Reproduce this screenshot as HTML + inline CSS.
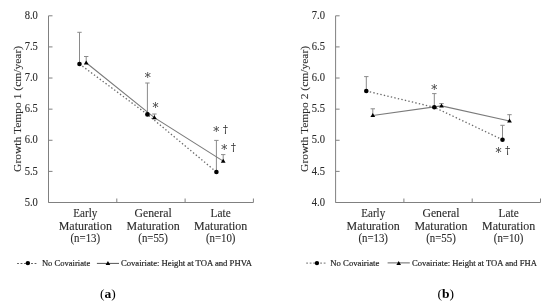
<!DOCTYPE html>
<html><head><meta charset="utf-8"><style>
html,body{margin:0;padding:0;background:#fff;}
svg{display:block;}
.t{font-family:"Liberation Serif", serif;font-size:11.2px;fill:#2a2a2a;stroke:#2a2a2a;stroke-width:0.1px;}
.c{font-size:11.7px;}
.l{font-family:"Liberation Serif", serif;font-size:8.3px;fill:#1e1e1e;stroke:#1e1e1e;stroke-width:0.18px;}
.ast{font-family:"DejaVu Serif",serif;font-size:12px;fill:#3a3a3a;}
.dag{font-family:"DejaVu Serif",serif;font-size:10.5px;fill:#2a2a2a;}
.cap{font-family:"Liberation Serif", serif;font-size:13.5px;fill:#000;}
</style></head><body>
<svg width="550" height="308" viewBox="0 0 550 308">
<rect width="550" height="308" fill="#fff"/>
<line x1="48.5" y1="15.8" x2="48.5" y2="202.5" stroke="#808080" stroke-width="1"/>
<line x1="48.5" y1="15.80" x2="52.5" y2="15.80" stroke="#808080" stroke-width="1"/>
<text x="37.9" y="19.00" text-anchor="end" class="t" style="font-size:12px" textLength="13.2" lengthAdjust="spacingAndGlyphs">8.0</text>
<line x1="48.5" y1="46.92" x2="52.5" y2="46.92" stroke="#808080" stroke-width="1"/>
<text x="37.9" y="50.12" text-anchor="end" class="t" style="font-size:12px" textLength="13.2" lengthAdjust="spacingAndGlyphs">7.5</text>
<line x1="48.5" y1="78.03" x2="52.5" y2="78.03" stroke="#808080" stroke-width="1"/>
<text x="37.9" y="81.23" text-anchor="end" class="t" style="font-size:12px" textLength="13.2" lengthAdjust="spacingAndGlyphs">7.0</text>
<line x1="48.5" y1="109.15" x2="52.5" y2="109.15" stroke="#808080" stroke-width="1"/>
<text x="37.9" y="112.35" text-anchor="end" class="t" style="font-size:12px" textLength="13.2" lengthAdjust="spacingAndGlyphs">6.5</text>
<line x1="48.5" y1="140.27" x2="52.5" y2="140.27" stroke="#808080" stroke-width="1"/>
<text x="37.9" y="143.47" text-anchor="end" class="t" style="font-size:12px" textLength="13.2" lengthAdjust="spacingAndGlyphs">6.0</text>
<line x1="48.5" y1="171.38" x2="52.5" y2="171.38" stroke="#808080" stroke-width="1"/>
<text x="37.9" y="174.58" text-anchor="end" class="t" style="font-size:12px" textLength="13.2" lengthAdjust="spacingAndGlyphs">5.5</text>
<line x1="48.5" y1="202.50" x2="52.5" y2="202.50" stroke="#808080" stroke-width="1"/>
<text x="37.9" y="205.70" text-anchor="end" class="t" style="font-size:12px" textLength="13.2" lengthAdjust="spacingAndGlyphs">5.0</text>
<line x1="48.5" y1="202.5" x2="253.39999999999998" y2="202.5" stroke="#808080" stroke-width="1"/>
<line x1="116.8" y1="198.5" x2="116.8" y2="202.5" stroke="#808080" stroke-width="1"/>
<line x1="185.1" y1="198.5" x2="185.1" y2="202.5" stroke="#808080" stroke-width="1"/>
<line x1="253.4" y1="198.5" x2="253.4" y2="202.5" stroke="#808080" stroke-width="1"/>
<text x="85.3" y="216.6" text-anchor="middle" class="t c" textLength="23.9" lengthAdjust="spacingAndGlyphs">Early</text>
<text x="85.3" y="229.5" text-anchor="middle" class="t c" textLength="53.2" lengthAdjust="spacingAndGlyphs">Maturation</text>
<text x="85.3" y="242.3" text-anchor="middle" class="t c" textLength="29.6" lengthAdjust="spacingAndGlyphs">(n=13)</text>
<text x="153.1" y="216.6" text-anchor="middle" class="t c" textLength="37.2" lengthAdjust="spacingAndGlyphs">General</text>
<text x="153.1" y="229.5" text-anchor="middle" class="t c" textLength="53.2" lengthAdjust="spacingAndGlyphs">Maturation</text>
<text x="153.1" y="242.3" text-anchor="middle" class="t c" textLength="29.6" lengthAdjust="spacingAndGlyphs">(n=55)</text>
<text x="220.7" y="216.6" text-anchor="middle" class="t c" textLength="20.2" lengthAdjust="spacingAndGlyphs">Late</text>
<text x="220.7" y="229.5" text-anchor="middle" class="t c" textLength="53.2" lengthAdjust="spacingAndGlyphs">Maturation</text>
<text x="220.7" y="242.3" text-anchor="middle" class="t c" textLength="29.6" lengthAdjust="spacingAndGlyphs">(n=10)</text>
<text transform="translate(20.8,108.9) rotate(-90)" text-anchor="middle" class="t" textLength="126" lengthAdjust="spacingAndGlyphs">Growth Tempo 1 (cm/year)</text>
<line x1="79.5" y1="32.3" x2="79.5" y2="64" stroke="#8a8a8a" stroke-width="1"/>
<line x1="77.3" y1="32.3" x2="81.7" y2="32.3" stroke="#8a8a8a" stroke-width="1"/>
<line x1="147.4" y1="83" x2="147.4" y2="114.4" stroke="#8a8a8a" stroke-width="1"/>
<line x1="145.20000000000002" y1="83" x2="149.6" y2="83" stroke="#8a8a8a" stroke-width="1"/>
<line x1="216.4" y1="140.4" x2="216.4" y2="172" stroke="#8a8a8a" stroke-width="1"/>
<line x1="214.20000000000002" y1="140.4" x2="218.6" y2="140.4" stroke="#8a8a8a" stroke-width="1"/>
<line x1="86.2" y1="56.5" x2="86.2" y2="62.8" stroke="#8a8a8a" stroke-width="1"/>
<line x1="84.0" y1="56.5" x2="88.4" y2="56.5" stroke="#8a8a8a" stroke-width="1"/>
<line x1="154.4" y1="114" x2="154.4" y2="117.6" stroke="#8a8a8a" stroke-width="1"/>
<line x1="152.20000000000002" y1="114" x2="156.6" y2="114" stroke="#8a8a8a" stroke-width="1"/>
<line x1="223.2" y1="154.6" x2="223.2" y2="161.1" stroke="#8a8a8a" stroke-width="1"/>
<line x1="221.0" y1="154.6" x2="225.39999999999998" y2="154.6" stroke="#8a8a8a" stroke-width="1"/>
<polyline points="79.5,64 147.4,114.4 216.4,172" fill="none" stroke="#6a6a6a" stroke-width="1.3" stroke-dasharray="1.4 2.2"/>
<polyline points="86.2,62.8 154.4,117.6 223.2,161.1" fill="none" stroke="#7a7a7a" stroke-width="1.1"/>
<circle cx="79.5" cy="64" r="2.3" fill="#000"/>
<circle cx="147.4" cy="114.4" r="2.3" fill="#000"/>
<circle cx="216.4" cy="172" r="2.3" fill="#000"/>
<path d="M83.8,64.39999999999999 L88.60000000000001,64.39999999999999 L86.2,60.4 Z" fill="#000"/>
<path d="M152.0,119.19999999999999 L156.8,119.19999999999999 L154.4,115.19999999999999 Z" fill="#000"/>
<path d="M220.79999999999998,162.7 L225.6,162.7 L223.2,158.7 Z" fill="#000"/>
<line x1="17.1" y1="263.5" x2="37.2" y2="263.5" stroke="#5e5e5e" stroke-width="1" stroke-dasharray="1.8 1.7"/>
<circle cx="27.85" cy="263.1" r="2.2" fill="#000"/>
<text x="41.9" y="266.2" class="l" textLength="48.3" lengthAdjust="spacingAndGlyphs">No Covairiate</text>
<line x1="335.6" y1="15.8" x2="335.6" y2="202.5" stroke="#808080" stroke-width="1"/>
<line x1="335.6" y1="15.80" x2="339.6" y2="15.80" stroke="#808080" stroke-width="1"/>
<text x="325.0" y="19.00" text-anchor="end" class="t" style="font-size:12px" textLength="13.2" lengthAdjust="spacingAndGlyphs">7.0</text>
<line x1="335.6" y1="46.92" x2="339.6" y2="46.92" stroke="#808080" stroke-width="1"/>
<text x="325.0" y="50.12" text-anchor="end" class="t" style="font-size:12px" textLength="13.2" lengthAdjust="spacingAndGlyphs">6.5</text>
<line x1="335.6" y1="78.03" x2="339.6" y2="78.03" stroke="#808080" stroke-width="1"/>
<text x="325.0" y="81.23" text-anchor="end" class="t" style="font-size:12px" textLength="13.2" lengthAdjust="spacingAndGlyphs">6.0</text>
<line x1="335.6" y1="109.15" x2="339.6" y2="109.15" stroke="#808080" stroke-width="1"/>
<text x="325.0" y="112.35" text-anchor="end" class="t" style="font-size:12px" textLength="13.2" lengthAdjust="spacingAndGlyphs">5.5</text>
<line x1="335.6" y1="140.27" x2="339.6" y2="140.27" stroke="#808080" stroke-width="1"/>
<text x="325.0" y="143.47" text-anchor="end" class="t" style="font-size:12px" textLength="13.2" lengthAdjust="spacingAndGlyphs">5.0</text>
<line x1="335.6" y1="171.38" x2="339.6" y2="171.38" stroke="#808080" stroke-width="1"/>
<text x="325.0" y="174.58" text-anchor="end" class="t" style="font-size:12px" textLength="13.2" lengthAdjust="spacingAndGlyphs">4.5</text>
<line x1="335.6" y1="202.50" x2="339.6" y2="202.50" stroke="#808080" stroke-width="1"/>
<text x="325.0" y="205.70" text-anchor="end" class="t" style="font-size:12px" textLength="13.2" lengthAdjust="spacingAndGlyphs">4.0</text>
<line x1="335.6" y1="202.5" x2="540.5" y2="202.5" stroke="#808080" stroke-width="1"/>
<line x1="403.9" y1="198.5" x2="403.9" y2="202.5" stroke="#808080" stroke-width="1"/>
<line x1="472.2" y1="198.5" x2="472.2" y2="202.5" stroke="#808080" stroke-width="1"/>
<line x1="540.5" y1="198.5" x2="540.5" y2="202.5" stroke="#808080" stroke-width="1"/>
<text x="373.2" y="216.6" text-anchor="middle" class="t c" textLength="23.9" lengthAdjust="spacingAndGlyphs">Early</text>
<text x="373.2" y="229.5" text-anchor="middle" class="t c" textLength="53.2" lengthAdjust="spacingAndGlyphs">Maturation</text>
<text x="373.2" y="242.3" text-anchor="middle" class="t c" textLength="29.6" lengthAdjust="spacingAndGlyphs">(n=13)</text>
<text x="441.0" y="216.6" text-anchor="middle" class="t c" textLength="37.2" lengthAdjust="spacingAndGlyphs">General</text>
<text x="441.0" y="229.5" text-anchor="middle" class="t c" textLength="53.2" lengthAdjust="spacingAndGlyphs">Maturation</text>
<text x="441.0" y="242.3" text-anchor="middle" class="t c" textLength="29.6" lengthAdjust="spacingAndGlyphs">(n=55)</text>
<text x="508.6" y="216.6" text-anchor="middle" class="t c" textLength="20.2" lengthAdjust="spacingAndGlyphs">Late</text>
<text x="508.6" y="229.5" text-anchor="middle" class="t c" textLength="53.2" lengthAdjust="spacingAndGlyphs">Maturation</text>
<text x="508.6" y="242.3" text-anchor="middle" class="t c" textLength="29.6" lengthAdjust="spacingAndGlyphs">(n=10)</text>
<text transform="translate(307.9,108.9) rotate(-90)" text-anchor="middle" class="t" textLength="126" lengthAdjust="spacingAndGlyphs">Growth Tempo 2 (cm/year)</text>
<line x1="366.3" y1="76.6" x2="366.3" y2="91" stroke="#8a8a8a" stroke-width="1"/>
<line x1="364.1" y1="76.6" x2="368.5" y2="76.6" stroke="#8a8a8a" stroke-width="1"/>
<line x1="434.3" y1="93.6" x2="434.3" y2="107.3" stroke="#8a8a8a" stroke-width="1"/>
<line x1="432.1" y1="93.6" x2="436.5" y2="93.6" stroke="#8a8a8a" stroke-width="1"/>
<line x1="502.5" y1="125.3" x2="502.5" y2="139.7" stroke="#8a8a8a" stroke-width="1"/>
<line x1="500.3" y1="125.3" x2="504.7" y2="125.3" stroke="#8a8a8a" stroke-width="1"/>
<line x1="372.8" y1="108.8" x2="372.8" y2="115.5" stroke="#8a8a8a" stroke-width="1"/>
<line x1="370.6" y1="108.8" x2="375.0" y2="108.8" stroke="#8a8a8a" stroke-width="1"/>
<line x1="441.5" y1="103.6" x2="441.5" y2="105.9" stroke="#8a8a8a" stroke-width="1"/>
<line x1="439.3" y1="103.6" x2="443.7" y2="103.6" stroke="#8a8a8a" stroke-width="1"/>
<line x1="509.5" y1="114.7" x2="509.5" y2="121.0" stroke="#8a8a8a" stroke-width="1"/>
<line x1="507.3" y1="114.7" x2="511.7" y2="114.7" stroke="#8a8a8a" stroke-width="1"/>
<polyline points="366.3,91 434.3,107.3 502.5,139.7" fill="none" stroke="#6a6a6a" stroke-width="1.3" stroke-dasharray="1.4 2.2"/>
<polyline points="372.8,115.5 441.5,105.9 509.5,121.0" fill="none" stroke="#7a7a7a" stroke-width="1.1"/>
<circle cx="366.3" cy="91" r="2.3" fill="#000"/>
<circle cx="434.3" cy="107.3" r="2.3" fill="#000"/>
<circle cx="502.5" cy="139.7" r="2.3" fill="#000"/>
<path d="M370.40000000000003,117.1 L375.2,117.1 L372.8,113.1 Z" fill="#000"/>
<path d="M439.1,107.5 L443.9,107.5 L441.5,103.5 Z" fill="#000"/>
<path d="M507.1,122.6 L511.9,122.6 L509.5,118.6 Z" fill="#000"/>
<line x1="306.20000000000005" y1="263.1" x2="326.3" y2="263.1" stroke="#707070" stroke-width="1" stroke-dasharray="1.8 1.7"/>
<circle cx="316.95000000000005" cy="263.1" r="2.2" fill="#000"/>
<text x="330.3" y="266.2" class="l" textLength="49.0" lengthAdjust="spacingAndGlyphs">No Covairiate</text>
<line x1="96.9" y1="263.4" x2="119.0" y2="263.4" stroke="#555" stroke-width="1"/><path d="M105.65,265.0 L110.25,265.0 L107.95,261.0 Z" fill="#000"/><text x="120.9" y="266.2" class="l" textLength="131.2" lengthAdjust="spacingAndGlyphs">Covairiate: Height at TOA and PHVA</text>
<line x1="387.6" y1="262.9" x2="409.8" y2="262.9" stroke="#666" stroke-width="1"/><path d="M396.40000000000003,265.0 L401.00000000000006,265.0 L398.70000000000005,261.0 Z" fill="#000"/><text x="412.0" y="266.2" class="l" textLength="124.9" lengthAdjust="spacingAndGlyphs">Covairiate: Height at TOA and FHA</text>
<text x="147.8" y="82.4" text-anchor="middle" class="ast">*</text>
<text x="155.4" y="111.6" text-anchor="middle" class="ast">*</text>
<text x="216.2" y="135.8" text-anchor="middle" class="ast">*</text>
<text x="224.3" y="154.3" text-anchor="middle" class="ast">*</text>
<text x="434.2" y="93.5" text-anchor="middle" class="ast">*</text>
<text x="498.4" y="157.2" text-anchor="middle" class="ast">*</text>
<text x="225.3" y="133.0" text-anchor="middle" class="dag">†</text>
<text x="233.3" y="151.0" text-anchor="middle" class="dag">†</text>
<text x="507.5" y="153.6" text-anchor="middle" class="dag">†</text>
<text x="107.8" y="297.7" text-anchor="middle" class="cap">(<tspan font-weight="bold">a</tspan>)</text>
<text x="445.8" y="297.7" text-anchor="middle" class="cap">(<tspan font-weight="bold">b</tspan>)</text>
</svg>
</body></html>
